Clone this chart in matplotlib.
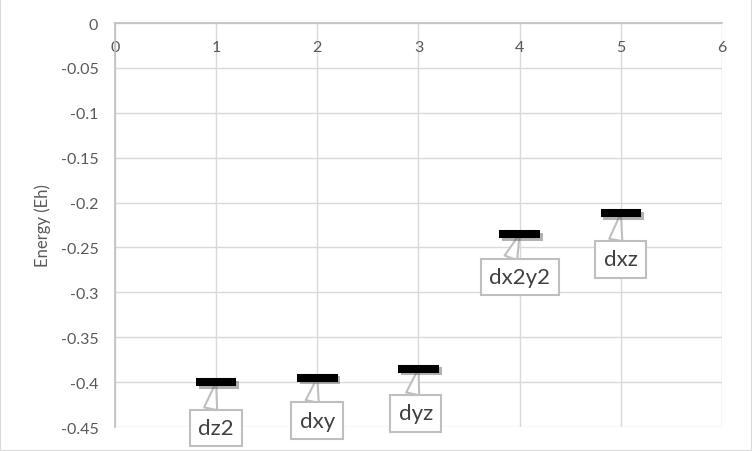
import matplotlib
matplotlib.use('Agg')
from matplotlib import pyplot as plt
import matplotlib.patheffects as pe
from matplotlib.patches import Rectangle

# Orbital energies (Eh)
orbitals = ['dz2', 'dxy', 'dyz', 'dx2y2', 'dxz']
xpos = [1, 2, 3, 4, 5]
energy = [-0.400, -0.395, -0.385, -0.235, -0.212]
half_width = 0.2

# Callout offsets below each level (points)
label_dx = [0, 0, -2, 0, 0]
label_dy = [-33, -31, -32, -31, -33]
label_rel = [0.29, 0.3, 0.35, 0.3, 0.3]

plt.rcParams['font.family'] = ['Lato', 'DejaVu Sans']

fig = plt.figure(figsize=(7.52, 4.52), dpi=100)
ax = fig.add_axes([115/752, 1 - 428/452, 607/752, 404/452])

grid_c = '#d9d9d9'
text_c = '#595959'

ax.set_xlim(0, 6)
ax.set_ylim(-0.45, 0)
ax.set_xticks(range(0, 7))
ax.set_yticks([0, -0.05, -0.1, -0.15, -0.2, -0.25, -0.3, -0.35, -0.4, -0.45])
ax.set_yticklabels(['0', '-0.05', '-0.1', '-0.15', '-0.2', '-0.25', '-0.3', '-0.35', '-0.4', '-0.45'])
ax.xaxis.tick_top()
ax.tick_params(axis='x', length=0, pad=-22, labelsize=11.5, colors=text_c)
ax.tick_params(axis='y', length=0, pad=12, labelsize=11.5, colors=text_c)
ax.grid(True, color=grid_c, linewidth=1)
ax.set_axisbelow(True)
for s in ['right', 'bottom']:
    ax.spines[s].set_visible(False)
for s in ['left', 'top']:
    ax.spines[s].set_color('#bfbfbf')
    ax.spines[s].set_linewidth(1.2)
ax.set_ylabel('Energy (Eh)', fontsize=12, color=text_c, labelpad=7)

for i, name in enumerate(orbitals):
    x = xpos[i]
    y = energy[i]
    ax.plot([x - half_width, x + half_width], [y, y], color='black', lw=5.8,
            solid_capstyle='butt', zorder=5,
            path_effects=[pe.SimpleLineShadow(offset=(2, -2), shadow_color='#555555', alpha=0.45),
                          pe.Normal()])
    ax.annotate(name, xy=(x, y), xytext=(label_dx[i], label_dy[i]),
                textcoords='offset points', ha='center', va='center',
                fontsize=16, color='#404040', zorder=4,
                bbox=dict(boxstyle='square,pad=0.38', fc='white', ec='#bfbfbf', lw=1.5),
                arrowprops=dict(arrowstyle='wedge,tail_width=0.6', fc='white', ec='#bfbfbf',
                                lw=1.5, relpos=(label_rel[i], 1.0), shrinkA=0, shrinkB=0))

fig.patches.append(Rectangle((0, 0), 1, 1, transform=fig.transFigure, fill=False,
                             ec='#d9d9d9', lw=1.5))

fig.savefig('out.png', dpi=100)
